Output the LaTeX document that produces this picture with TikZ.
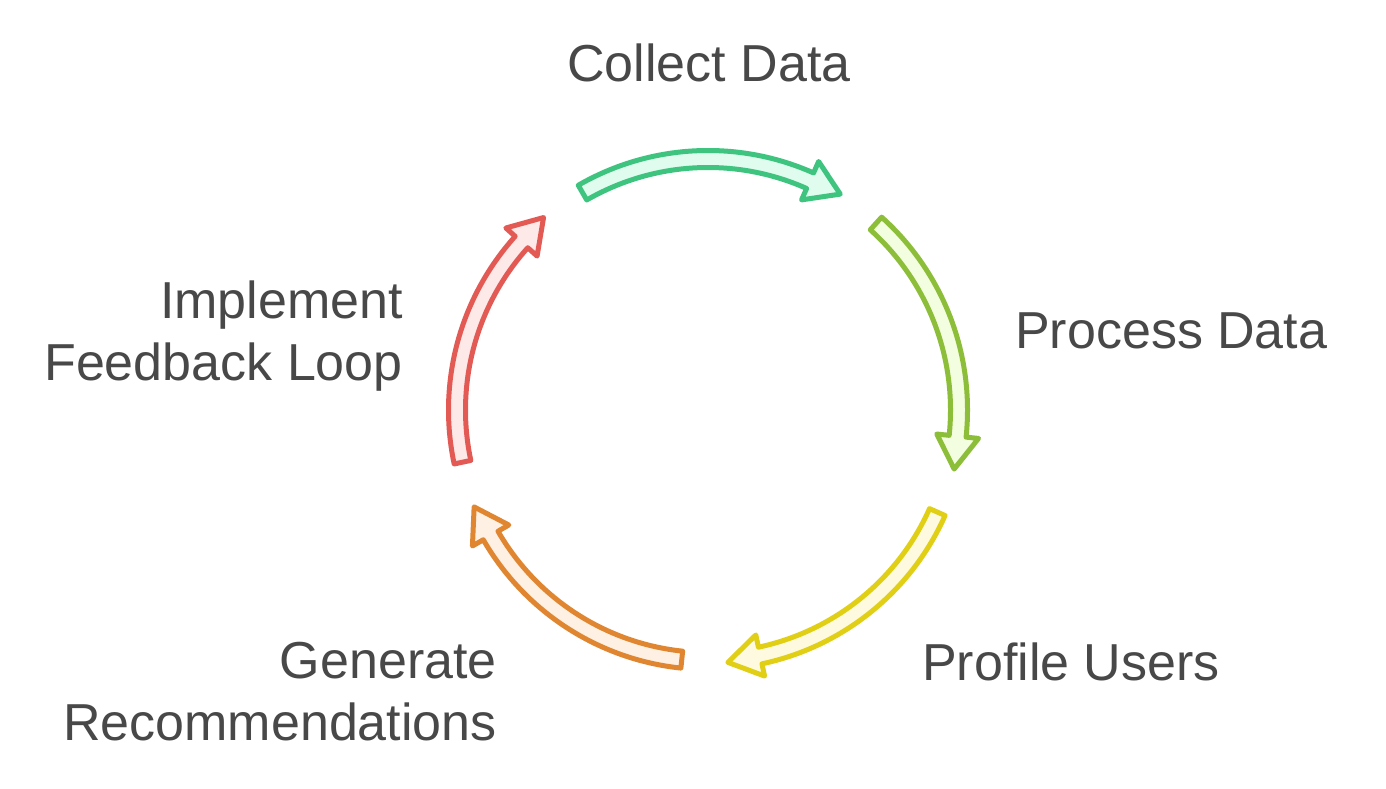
\documentclass[tikz,border=0pt]{standalone}
\usepackage{fontspec}
\setmainfont{Liberation Sans}
\usetikzlibrary{calc}
\definecolor{txt}{HTML}{484848}
\definecolor{gS}{HTML}{3EC47E}\definecolor{gF}{HTML}{E0FCEF}
\definecolor{lS}{HTML}{8DBE3A}\definecolor{lF}{HTML}{F3FDE0}
\definecolor{yS}{HTML}{E0CF14}\definecolor{yF}{HTML}{FEFADF}
\definecolor{oS}{HTML}{E08631}\definecolor{oF}{HTML}{FEF0E3}
\definecolor{rS}{HTML}{E35A55}\definecolor{rF}{HTML}{FDE9E8}
\tikzset{
  cyc/.style={line width=5pt, line join=round},
  lbl/.style={text=txt, font=\fontsize{52}{62}\selectfont, inner sep=0pt}
}
\begin{document}
\begin{tikzpicture}[x=1pt,y=1pt]
\fill[white] (0,0) rectangle (1386,788);
\useasboundingbox (0,0) rectangle (1386,788);
\coordinate (ctr) at (708,378);
\begin{scope}[shift={(708pt,378pt)}]
\foreach \ta/\s/\f in {120/gS/gF, 48/lS/lF, -24/yS/yF, -96/oS/oF, -168/rS/rF}{
  \pgfmathsetmacro\hb{\ta-54}
  \pgfmathsetmacro\tp{\ta-54-90}
  \draw[cyc, draw=\s, fill=\f]
    (\ta:259.5pt) arc[start angle=\ta, end angle=\hb, radius=259.5pt]
    -- (\hb:272pt) -- ($(\hb:251pt)+(\tp:33pt)$) -- (\hb:230pt)
    -- (\hb:242.5pt) arc[start angle=\hb, end angle=\ta, radius=242.5pt]
    -- cycle;
}
\end{scope}
\node[lbl, anchor=base] (collect) at (709,706) {Collect Data};
\node[lbl, anchor=base west] (process) at (1015,439) {Process Data};
\node[lbl, anchor=base west] (profile) at (922,108) {Profile Users};
\node[lbl, anchor=north east, align=right] (generate) at (497,146) {Generate\\Recommendations};
\node[lbl, anchor=north east, align=right] (implement) at (403,507) {Implement\\Feedback Loop};
\end{tikzpicture}
\end{document}
